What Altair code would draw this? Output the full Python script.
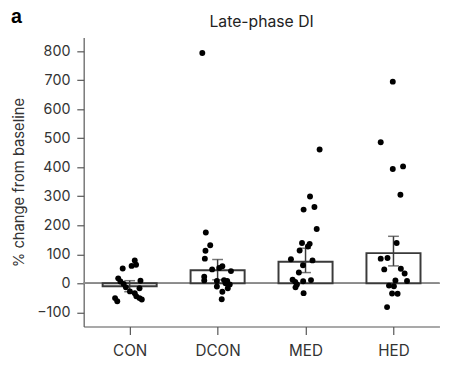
import altair as alt
import pandas as pd

categories = ["CON", "DCON", "MED", "HED"]
bar_means = [-10, 45, 74, 104]
err_lower = [-29, 12, 37, 60]
err_upper = [9, 82, 121, 162]

con_values = [79, 64, 60, 51, 17, 6, -2, -14, 9, -17, -28, -34, -45, -51, -56, -51, -62]
con_jitter = [0.058, 0.073, 0.022, -0.079, -0.13, -0.105, -0.068, -0.043, 0.123, 0.112, 0.003, 0.058, 0.076, 0.112, 0.138, -0.166, -0.141]

dcon_values = [794, 175, 131, 112, 85, 48, 53, 59, 42, 23, 10, 8, 11, 8, 0, -11, -4, -17, -29, -55]
dcon_jitter = [-0.174, -0.134, -0.084, -0.138, -0.145, -0.062, 0.018, 0.054, 0.152, -0.152, -0.152, -0.008, 0.073, 0.109, 0.09, -0.008, 0.138, 0.116, 0.054, 0.047]

med_values = [461, 299, 263, 254, 187, 139, 136, 127, 113, 83, 79, 62, 37, 12, 7, 11, 5, -4, -14, -34]
med_jitter = [0.16, 0.051, 0.101, -0.022, 0.127, -0.04, 0.047, 0.027, -0.067, -0.166, 0.079, -0.029, -0.076, -0.147, -0.027, 0.062, -0.117, -0.098, -0.114, -0.022]

hed_values = [695, 486, 394, 403, 305, 139, 85, 87, 48, 50, 34, 10, 8, -8, -10, -35, -36, -82]
hed_jitter = [-0.008, -0.145, -0.008, 0.109, 0.079, 0.036, -0.145, -0.068, -0.105, 0.084, 0.127, 0.022, 0.154, -0.051, 0.005, -0.016, 0.047, -0.073]

y_ticks = [-100, 0, 100, 200, 300, 400, 500, 600, 700, 800]

title_text = "Late-phase DI"
panel_letter = "a"

FONT = "Inter"

summary = pd.DataFrame({
    "group": categories,
    "idx": list(range(len(categories))),
    "mean": bar_means,
    "lo": err_lower,
    "hi": err_upper,
})

rows = []
for i, (vals, jit) in enumerate([(con_values, con_jitter), (dcon_values, dcon_jitter),
                                  (med_values, med_jitter), (hed_values, hed_jitter)]):
    for v, j in zip(vals, jit):
        rows.append({"group": categories[i], "idx": i, "jitter": j, "value": v})
points = pd.DataFrame(rows)

label_expr = "[" + ",".join("'%s'" % c for c in categories) + "][datum.value]"

x_scale = alt.Scale(domain=[-0.467, 3.467], nice=False, zero=False)
y_scale = alt.Scale(domain=[-149, 847], nice=False, zero=False)

x_axis = alt.Axis(values=[0, 1, 2, 3], labelExpr=label_expr, title=None, grid=False,
                  tickSize=8, labelPadding=9, labelFontSize=15.5)
y_axis = alt.Axis(values=y_ticks, title="% change from baseline", grid=False, tickSize=7,
                  labelPadding=7, titlePadding=10, titleFontSize=15, titleFontWeight="normal",
                  titleColor="#333", titleFont=FONT, labelFontSize=14.5)

zero_line = alt.Chart(summary).mark_rule(color="#8a8a8a", strokeWidth=1.5).encode(
    y=alt.datum(0, scale=y_scale, axis=y_axis, type="quantitative")
)

bars = alt.Chart(summary).mark_bar(size=55, fill="white", stroke="#3a3a3a", strokeWidth=2).encode(
    x=alt.X("idx:Q", scale=x_scale, axis=x_axis),
    y=alt.Y("mean:Q", scale=y_scale, axis=y_axis),
    y2=alt.Y2(datum=0),
)

err_rule = alt.Chart(summary).mark_rule(color="#3a3a3a", strokeWidth=1.5).encode(
    x=alt.X("idx:Q", scale=x_scale, axis=x_axis),
    y=alt.Y("lo:Q", scale=y_scale, axis=y_axis),
    y2="hi:Q",
)

cap_lo = alt.Chart(summary).mark_tick(orient="horizontal", size=11, thickness=1.5, color="#3a3a3a").encode(
    x=alt.X("idx:Q", scale=x_scale, axis=x_axis),
    y=alt.Y("lo:Q", scale=y_scale, axis=y_axis),
)
cap_hi = alt.Chart(summary).mark_tick(orient="horizontal", size=11, thickness=1.5, color="#3a3a3a").encode(
    x=alt.X("idx:Q", scale=x_scale, axis=x_axis),
    y=alt.Y("hi:Q", scale=y_scale, axis=y_axis),
)

dots = alt.Chart(points).transform_calculate(
    pos="datum.idx + datum.jitter"
).mark_circle(size=36, color="black", opacity=1).encode(
    x=alt.X("pos:Q", scale=x_scale, axis=x_axis),
    y=alt.Y("value:Q", scale=y_scale, axis=y_axis),
)

panel = alt.Chart(summary).transform_filter("datum.idx == 0").mark_text(
    text=panel_letter, font="Liberation Sans", fontSize=20, fontWeight="bold",
    align="left", baseline="alphabetic", color="black"
).encode(x=alt.value(-74), y=alt.value(-15))

title = alt.Chart(summary).transform_filter("datum.idx == 0").mark_text(
    text=title_text, font=FONT, fontSize=16, align="center", baseline="alphabetic", color="#222"
).encode(x=alt.value(181), y=alt.value(-11))

chart = alt.layer(zero_line, bars, err_rule, cap_lo, cap_hi, dots, panel, title).properties(
    width=362,
    height=294,
    autosize=alt.AutoSizeParams(type="none"),
    padding={"left": 77, "top": 27, "right": 27, "bottom": 33},
).configure_view(stroke=None).configure_axis(
    domainColor="#555", tickColor="#555", domainWidth=1.2, tickWidth=1.2,
    labelColor="#333", labelFont=FONT,
)

chart.save("out.html", embed_options={"renderer": "svg", "actions": False})
